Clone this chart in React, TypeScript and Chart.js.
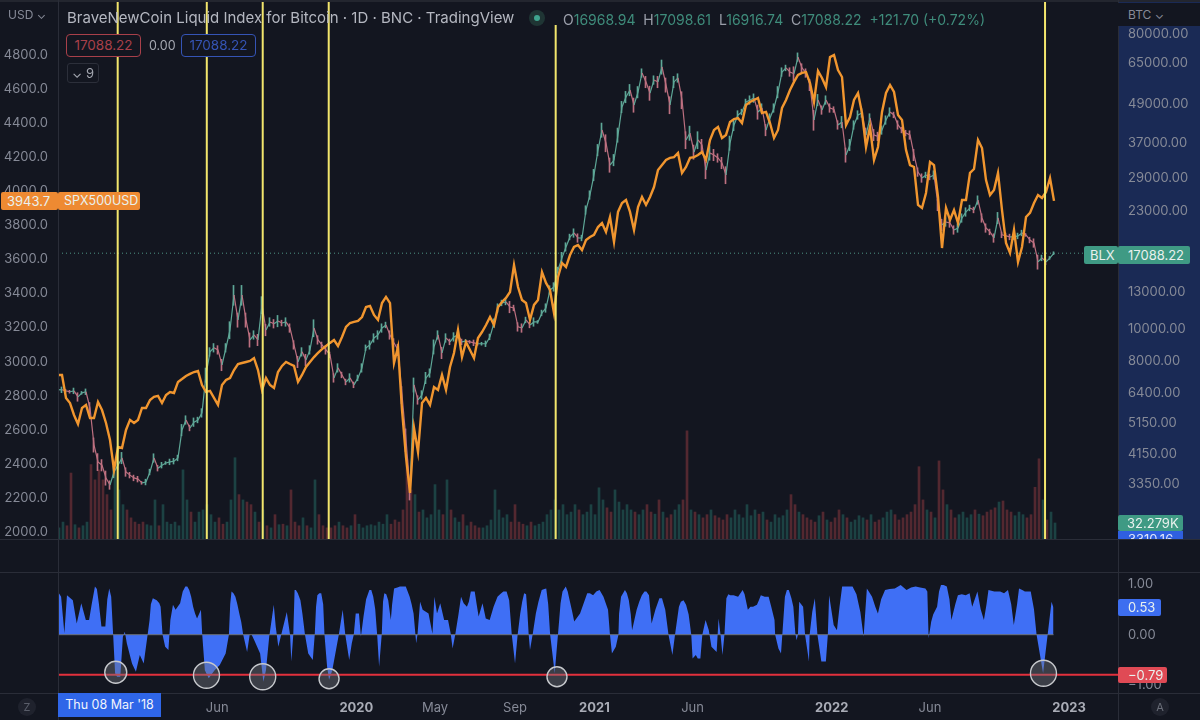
import { useEffect, useRef, type CSSProperties } from 'react';
import { Chart, registerables } from 'chart.js';

Chart.register(...registerables);

// every price series is one sample per ~6 days, starting at firstDay
const firstDay = -93.8; // days since 1 Jan 2019
const lastVisibleDay = 1536.2;
const sampleStep = 6.151;

const spxClose = [
  2922, 2922, 2787, 2757, 2687, 2634, 2728, 2746, 2669, 2669, 2763, 2716, 2640, 2540, 2364, 2499, 2493, 2599, 2658, 2640,
  2658, 2728, 2728, 2775, 2793, 2799, 2757, 2804, 2822, 2816, 2881, 2898, 2916, 2928, 2939, 2945, 2863, 2822, 2828, 2787,
  2746, 2863, 2892, 2904, 2951, 2986, 2992, 2998, 3004, 3021, 2951, 2834, 2904, 2863, 2845, 2939, 2975, 2998, 2986, 2975,
  2881, 2922, 2969, 2998, 3027, 3051, 3074, 3092, 3110, 3127, 3092, 3145, 3204, 3227, 3233, 3239, 3262, 3321, 3327, 3274,
  3245, 3344, 3380, 3344, 2992, 3086, 2716, 2440, 2229, 2611, 2470, 2757, 2787, 2746, 2851, 2834, 2922, 2834, 2969, 3051,
  3186, 3027, 3115, 3068, 3021, 3139, 3174, 3215, 3262, 3215, 3321, 3350, 3374, 3409, 3567, 3438, 3362, 3344, 3245, 3333,
  3362, 3526, 3462, 3421, 3286, 3497, 3579, 3556, 3626, 3673, 3685, 3655, 3714, 3732, 3744, 3790, 3814, 3761, 3849, 3702,
  3879, 3931, 3949, 3879, 3773, 3908, 3967, 3920, 3967, 4025, 4125, 4154, 4184, 4196, 4201, 4225, 4108, 4143, 4196, 4201,
  4213, 4231, 4184, 4301, 4360, 4378, 4313, 4331, 4407, 4424, 4430, 4401, 4507, 4524, 4536, 4548, 4460, 4466, 4401, 4313,
  4360, 4489, 4536, 4595, 4642, 4683, 4695, 4700, 4636, 4524, 4706, 4665, 4612, 4788, 4800, 4712, 4671, 4389, 4436, 4536,
  4577, 4460, 4260, 4378, 4184, 4260, 4466, 4577, 4624, 4583, 4448, 4419, 4243, 4154, 4143, 3920, 3902, 3990, 4172, 4154,
  3967, 3667, 3902, 3832, 3890, 3814, 3949, 3949, 4108, 4131, 4301, 4254, 4066, 3978, 4008, 4108, 3890, 3697, 3638, 3773,
  3585, 3673, 3849, 3873, 3931, 3978, 3961, 3996, 4078, 3943.7,
];

const btcClose = [
  6530, 6530, 6480, 6440, 6480, 6210, 6390, 6440, 5740, 4430, 3930, 3840, 3510, 3340, 3660, 3840, 4040, 3660, 3580, 3510,
  3480, 3390, 3410, 3660, 4040, 3760, 3840, 3900, 3930, 3950, 4040, 4920, 5280, 4990, 5200, 5280, 5550, 7250, 8530, 8780,
  8650, 7780, 8780, 9950, 12730, 10680, 12730, 10680, 9280, 9610, 9280, 11870, 9950, 10530, 10400, 10600, 10450, 10530, 10090, 8960,
  7950, 8530, 8060, 8650, 10090, 9280, 8960, 8650, 8350, 7100, 7620, 7250, 6900, 7100, 6760, 7100, 7620, 8780, 8960, 9410,
  9610, 10090, 10310, 9610, 9090, 8650, 6300, 4590, 3230, 6760, 6080, 6300, 7100, 7350, 8840, 9610, 8470, 9410, 9150, 9480,
  9610, 9150, 9210, 9150, 9090, 9030, 9030, 9030, 9480, 10450, 11620, 12040, 12120, 11700, 11620, 10170, 10090, 10680, 10310, 10530,
  10530, 11220, 11620, 13190, 13480, 15190, 16530, 17860, 19160, 19700, 19020, 19020, 23170, 25750, 29650, 35340, 40690, 37130, 31800, 32940,
  39290, 47860, 51350, 53930, 48530, 53140, 60790, 57080, 52770, 57870, 57080, 63440, 55900, 48530, 57080, 58710, 50270, 37930, 39820, 34860,
  37930, 36630, 30700, 34620, 34140, 33420, 32270, 29650, 37130, 42170, 45250, 46200, 49590, 50270, 50950, 46200, 47520, 40690, 44300, 47520,
  53140, 61230, 63000, 61230, 60500, 68000, 63000, 60790, 55900, 43660, 50270, 46850, 50270, 47520, 47000, 42170, 43050, 34140, 36630, 42170,
  45250, 45880, 39290, 44300, 39290, 38900, 40690, 43660, 46200, 45250, 42170, 40690, 39820, 39290, 34140, 30260, 29020, 29650, 29230, 29650,
  24000, 20860, 21290, 21140, 20130, 20410, 21900, 22850, 23500, 23170, 24850, 21900, 20410, 19850, 19020, 21900, 19440, 19300, 19160, 19160,
  19300, 19700, 19440, 18750, 18360, 16070, 16530, 16070, 16530, 17088.22,
];

// half height of the candles around each sample, percent of price
const btcWickPct = [
  1, 2, 1, 1, 2, 3, 1, 2, 4, 5, 6, 4, 5, 3, 4, 3, 4, 3, 2, 2,
  2, 1, 2, 2, 3, 2, 2, 1, 2, 2, 2, 4, 3, 2, 3, 2, 3, 5, 3, 3,
  3, 4, 3, 6, 7, 5, 7, 5, 5, 3, 4, 6, 4, 3, 3, 4, 2, 3, 3, 3,
  4, 3, 4, 3, 6, 3, 2, 3, 2, 3, 3, 2, 2, 3, 2, 2, 3, 2, 3, 3,
  3, 3, 2, 3, 3, 4, 6, 8, 7, 5, 3, 3, 4, 3, 5, 3, 4, 3, 2, 3,
  2, 2, 1, 1, 2, 1, 1, 2, 2, 3, 3, 2, 2, 4, 2, 3, 3, 2, 2, 3,
  1, 2, 3, 3, 3, 2, 4, 3, 2, 3, 3, 2, 3, 3, 4, 4, 5, 6, 5, 4,
  5, 4, 4, 4, 5, 4, 3, 4, 5, 3, 4, 5, 5, 6, 4, 3, 6, 6, 5, 5,
  6, 4, 6, 5, 4, 3, 4, 6, 5, 4, 3, 2, 2, 3, 3, 5, 3, 4, 3, 3,
  4, 3, 2, 3, 5, 3, 3, 3, 4, 7, 4, 3, 3, 3, 2, 3, 4, 5, 4, 3,
  3, 3, 5, 3, 4, 3, 3, 3, 3, 2, 3, 2, 2, 3, 4, 3, 3, 2, 2, 3,
  4, 4, 3, 3, 3, 3, 3, 3, 2, 2, 3, 3, 3, 2, 3, 4, 2, 2, 2, 2,
  2, 2, 1, 2, 3, 5, 2, 2, 1, 1,
];

// BLX volume, thousands
const btcVolume = [
  23, 34, 27, 127, 29, 23, 27, 34, 143, 114, 133, 114, 86, 57, 133, 95, 67, 57, 42, 34,
  30, 34, 29, 27, 76, 27, 67, 34, 30, 34, 27, 133, 76, 53, 34, 53, 57, 67, 48, 34,
  42, 30, 34, 76, 156, 86, 76, 72, 67, 53, 34, 57, 27, 23, 48, 29, 30, 27, 95, 34,
  27, 42, 27, 23, 114, 48, 27, 23, 23, 27, 34, 27, 23, 27, 48, 30, 23, 27, 29, 27,
  34, 30, 48, 30, 38, 34, 57, 152, 95, 86, 53, 57, 42, 48, 105, 57, 48, 114, 57, 42,
  34, 48, 27, 34, 27, 23, 23, 27, 38, 95, 57, 42, 48, 34, 67, 34, 30, 27, 34, 27,
  30, 34, 48, 57, 76, 57, 67, 48, 53, 67, 57, 48, 53, 67, 48, 99, 76, 61, 53, 95,
  72, 57, 67, 57, 53, 48, 57, 67, 53, 49, 76, 53, 42, 48, 57, 67, 76, 207, 57, 53,
  48, 42, 48, 57, 46, 42, 38, 48, 42, 57, 48, 42, 67, 46, 57, 49, 53, 38, 34, 48,
  42, 46, 57, 86, 67, 53, 48, 42, 38, 34, 46, 53, 38, 34, 42, 57, 48, 42, 34, 38,
  46, 42, 38, 48, 34, 38, 42, 53, 57, 48, 38, 42, 48, 53, 67, 139, 76, 57, 53, 42,
  150, 95, 67, 57, 42, 48, 53, 42, 48, 57, 49, 46, 53, 57, 61, 72, 74, 57, 53, 46,
  53, 48, 42, 48, 100, 154, 76, 38, 53, 32.279,
];

// oscillator vertices, day and value read in pairs (20 per row)
const oscDays = [
  -94, -89, -84, -80, -71, -65, -58, -51, -46, -42, -37, -34, -31, -27, -21, -18, -15, -12, -9, -6,
  -3, 2, 6, 9, 12, 20, 26, 32, 38, 44, 47, 49, 52, 58, 62, 64, 67, 71, 76, 79,
  83, 87, 94, 98, 102, 105, 108, 111, 114, 117, 120, 126, 128, 132, 138, 147, 155, 164, 169, 171,
  173, 176, 179, 182, 185, 188, 191, 197, 201, 204, 208, 217, 222, 226, 231, 238, 241, 245, 250, 258,
  263, 265, 268, 270, 272, 275, 279, 282, 286, 291, 298, 301, 303, 305, 308, 311, 314, 316, 320, 323,
  328, 338, 344, 348, 354, 358, 361, 364, 369, 372, 376, 380, 385, 388, 391, 394, 397, 400, 404, 406,
  408, 411, 414, 418, 420, 423, 428, 432, 437, 441, 447, 450, 453, 457, 459, 463, 467, 476, 482, 485,
  489, 494, 500, 506, 510, 513, 517, 522, 526, 530, 535, 538, 541, 544, 547, 550, 553, 559, 564, 570,
  576, 582, 586, 591, 596, 600, 604, 609, 613, 617, 620, 623, 626, 628, 630, 632, 636, 641, 645, 650,
  654, 657, 660, 663, 670, 675, 679, 682, 687, 690, 694, 697, 700, 709, 714, 720, 724, 729, 734, 739,
  745, 752, 755, 758, 764, 768, 769, 772, 778, 781, 784, 787, 789, 796, 800, 804, 808, 811, 815, 819,
  825, 831, 835, 840, 845, 851, 855, 861, 864, 868, 872, 876, 880, 882, 887, 890, 894, 897, 902, 907,
  911, 919, 922, 925, 928, 931, 934, 937, 940, 945, 952, 959, 962, 967, 971, 975, 981, 984, 987, 993,
  999, 1003, 1008, 1009, 1014, 1018, 1020, 1024, 1027, 1030, 1034, 1037, 1040, 1042, 1044, 1046, 1052, 1055, 1061, 1062,
  1066, 1070, 1074, 1080, 1087, 1090, 1092, 1099, 1104, 1108, 1112, 1116, 1128, 1134, 1140, 1145, 1150, 1153, 1158, 1163,
  1167, 1172, 1178, 1185, 1193, 1202, 1211, 1218, 1225, 1232, 1240, 1243, 1245, 1249, 1252, 1258, 1261, 1264, 1268, 1273,
  1277, 1280, 1286, 1290, 1296, 1302, 1308, 1312, 1320, 1325, 1330, 1334, 1337, 1346, 1355, 1361, 1367, 1372, 1376, 1381,
  1384, 1389, 1393, 1402, 1407, 1411, 1421, 1428, 1434, 1437,
];
const oscValues = [
  0.85, 0.75, 0.03, 0.78, 0.68, 0.22, 0.62, 0.29, 0.29, 0.6, 0.95, 0.9, 0.62, 0.16, 0.16, 0.7, 0.91, 0.75, 0, -0.76,
  -0.83, -0.83, -0.04, 0.06, -0.17, -0.57, -0.73, -0.4, -0.57, 0, 0.29, 0.6, 0.72, 0.68, 0.62, 0.55, 0, -0.24, -0.3, 0.29,
  0.59, 0.49, 0.62, 0.85, 0.95, 0.95, 0.88, 0.75, 0.55, 0.42, 0.32, 0.49, 0, -0.7, -0.86, -0.7, -0.6, -0.37, 0, 0.6,
  0.85, 0.82, 0.75, 0.6, 0.42, 0.25, 0, -0.34, 0, 0, -0.11, -0.37, -0.93, -0.7, -0.04, 0.59, 0.16, -0.24, 0.03, 0.45,
  0, -0.53, 0, 0.88, 0.88, 0.82, 0.68, 0.42, 0, -0.37, -0.5, 0, 0.55, 0.78, 0.82, 0.82, 0.6, 0, -0.63, -0.89,
  -0.7, 0, 0.49, 0, -0.5, -0.17, 0, 0.42, 0.42, -0.04, 0.36, 0.7, 0.88, 0.88, 0.75, 0.5, 0, -0.63, 0, 0.65,
  0.82, 0.8, 0.68, 0.29, 0.6, 0.91, 0.93, 0.95, 0.95, 0.95, 0.75, 0.6, 0.42, -0.17, 0, 0.65, 0.49, 0.42, 0.02, 0.75,
  0.42, 0.62, 0.29, 0.29, 0.03, -0.27, 0, 0.4, 0.75, 0.62, 0.55, 0.65, 0.85, 0.85, 0.85, 0.6, 0.36, 0.62, 0.32, 0.29,
  0.55, 0.75, 0.8, 0.85, 0.85, 0.68, 0, -0.57, 0, 0.42, 0.65, 0.82, 0.8, 0.45, 0, -0.3, 0, 0.42, 0.65, 0.88,
  0.9, 0.91, 0.6, 0, -0.76, 0, 0.62, 0.85, 0.95, 0.85, 0.62, 0.45, 0.26, 0.42, 0.6, 0.82, 0.82, 0.78, 0.85, 0.88,
  0.75, 0.49, 0, -0.37, -0.24, 0, 0.42, 0.75, 0.88, 0.82, 0.68, 0.4, 0.09, 0.49, 0.65, 0.78, 0.85, 0.85, 0.78, 0.22,
  0.5, 0.72, 0.72, 0.49, 0, -0.4, 0, 0.55, 0.65, 0.68, 0.59, 0.4, 0, -0.47, -0.4, -0.47, -0.47, 0, 0.29, 0.09,
  -0.24, -0.34, 0.32, 0, -0.4, 0, 0.72, 0.8, 0.78, 0.78, 0.75, 0.88, 0.8, 0.49, 0.55, 0.55, 0.59, 0.68, 0.78, 0.75,
  0.75, 0.55, 0.29, 0, -0.27, -0.37, 0, 0.75, 0.88, 0.88, 0.72, 0.55, 0.03, -0.11, 0, 0.65, 0.55, 0, -0.53, 0,
  0.45, 0.72, 0, -0.53, -0.53, 0, 0.78, 0.19, 0.09, 0.55, 0.95, 0.95, 0.95, 0.8, 0.45, -0.04, 0.91, 0.85, 0.75, 0.55,
  0.42, 0.7, 0.88, 0.9, 0.91, 0.98, 0.88, 0.93, 0.95, 0.93, 0.91, 0.85, -0.07, 0.26, 0.4, 0.55, 0.85, 0.98, 0.98, 0.95,
  0.7, 0.29, 0.6, 0.78, 0.8, 0.78, 0.82, 0.55, 0.85, 0.5, 0.29, 0.6, 0.88, 0.85, 0.85, 0.82, 0.88, 0.6, 0.19, 0.6,
  0.91, 0.88, 0.85, 0.85, 0.5, 0, -0.76, 0, 0.65, 0.53,
];

const eventDays = [-2, 135, 221, 322.5, 671.5, 1424];
const eventTops = [5123, 5123, 5123, 5123, 4976, 5123];

const circledDays = [-5, 134.5, 221, 323, 673.5, 1421.6];
const circledValues = [-0.74, -0.8, -0.83, -0.87, -0.83, -0.76];

const spxTicks = [2000, 2200, 2400, 2600, 2800, 3000, 3200, 3400, 3600, 3800, 4000, 4200, 4400, 4600, 4800];
const btcTicks = [80000, 65000, 49000, 37000, 29000, 23000, 13000, 10000, 8000, 6400, 5150, 4150, 3350];
const oscTicks = [1, 0, -1];
const timeTickDays = [151, 365, 486, 609, 731, 882, 1096, 1247, 1461];
const timeTickLabels = ['Jun', '2020', 'May', 'Sep', '2021', 'Jun', '2022', 'Jun', '2023'];

const lastBtc = 17088.22;
const oscLevel = -0.79;

const BG = '#131620';
const GRAY = '#868a97';
const UP = '#5ea797';
const DOWN = '#bd7080';
const FONT = 'Inter, "Noto Sans", sans-serif';
const circleSizes = [11, 13, 13, 10, 10, 13];

Chart.defaults.font.family = FONT;
Chart.defaults.font.size = 13;
Chart.defaults.color = GRAY;

const priceDays = spxClose.map((_, i) => firstDay + i * sampleStep);
const isDown = (i: number) => i > 0 && btcClose[i] < btcClose[i - 1];

// ticks.padding would otherwise be added to the chart area inset
const fixedWidth = (w: number) => (scale: any) => {
  scale.width = w;
  scale.paddingTop = 0;
  scale.paddingBottom = 0;
};
const fixedTicks = (values: number[]) => (scale: any) => {
  scale.ticks = values.map((value) => ({ value }));
};

const box = (x: number, y: number, w: number, h: number, extra: CSSProperties = {}): CSSProperties => ({
  position: 'absolute',
  left: x,
  top: y,
  width: w,
  height: h,
  lineHeight: `${h}px`,
  ...extra,
});

function Tag({ x, y, w, h, bg, text, pad = 6, size = 13 }: { x: number; y: number; w: number; h: number; bg: string; text: string; pad?: number; size?: number }) {
  return (
    <div style={box(x, y, w, h, { background: bg, color: '#e9f1ee', paddingLeft: pad, boxSizing: 'border-box', fontSize: size, borderRadius: 2, whiteSpace: 'nowrap' })}>
      {text}
    </div>
  );
}

export default function App() {
  const mainRef = useRef<HTMLCanvasElement | null>(null);
  const oscRef = useRef<HTMLCanvasElement | null>(null);

  useEffect(() => {
    if (!mainRef.current || !oscRef.current) {
      return;
    }

    const main = new Chart(mainRef.current, {
      data: {
        datasets: [
          ...eventDays.map((day, i) => ({
            type: 'line' as const,
            data: [
              { x: day, y: eventTops[i] },
              { x: day, y: 1953 },
            ],
            yAxisID: 'ySpx',
            borderColor: '#f2e56c',
            borderWidth: 2,
            pointRadius: 0,
            order: 1,
          })),
          {
            type: 'line' as const,
            data: spxClose.map((y, i) => ({ x: priceDays[i], y })),
            yAxisID: 'ySpx',
            borderColor: '#f1962f',
            borderWidth: 2.4,
            pointRadius: 0,
            tension: 0,
            order: 2,
          },
          {
            type: 'line' as const,
            data: btcClose.map((y, i) => ({ x: priceDays[i], y })),
            yAxisID: 'yBtc',
            borderWidth: 1.2,
            pointRadius: 0,
            tension: 0,
            segment: {
              borderColor: (ctx: any) => (ctx.p1.parsed.y >= ctx.p0.parsed.y ? UP : DOWN),
            },
            order: 3,
          },
          {
            type: 'bar' as const,
            data: btcClose.map((c, i) => ({
              x: priceDays[i],
              y: [c * (1 - btcWickPct[i] / 100), c * (1 + btcWickPct[i] / 100)],
            })),
            yAxisID: 'yBtc',
            barThickness: 1,
            backgroundColor: btcClose.map((_, i) => (isDown(i) ? DOWN : UP)),
            order: 3.5,
          },
          {
            type: 'line' as const,
            data: [
              { x: firstDay, y: lastBtc },
              { x: 1483, y: lastBtc },
            ],
            yAxisID: 'yBtc',
            borderColor: '#4f9484',
            borderWidth: 1,
            borderDash: [1, 3],
            pointRadius: 0,
            order: 4,
          },
          {
            type: 'bar' as const,
            data: btcVolume.map((y, i) => ({ x: priceDays[i], y })),
            yAxisID: 'yVol',
            barThickness: 2,
            backgroundColor: btcVolume.map((_, i) => (isDown(i) ? 'rgba(190,70,75,0.38)' : 'rgba(45,140,125,0.38)')),
            order: 5,
          },
        ],
      },
      options: {
        responsive: false,
        animation: false,
        layout: { autoPadding: false, padding: 0 },
        plugins: { legend: { display: false }, tooltip: { enabled: false } },
        scales: {
          x: { type: 'linear', offset: false, min: firstDay, max: lastVisibleDay, display: false },
          ySpx: {
            type: 'linear',
            position: 'left',
            min: 1953,
            max: 5123,
            afterFit: fixedWidth(58),
            afterBuildTicks: fixedTicks(spxTicks),
            grid: { display: false, drawTicks: false },
            border: { display: false },
            ticks: { padding: 10, autoSkip: false, callback: (v: any) => Number(v).toFixed(1) },
          },
          yBtc: {
            type: 'logarithmic',
            position: 'right',
            min: 2267,
            max: 101650,
            afterFit: fixedWidth(82),
            afterBuildTicks: fixedTicks(btcTicks),
            grid: { display: false, drawTicks: false },
            border: { display: false },
            ticks: { padding: 10, autoSkip: false, callback: (v: any) => Number(v).toFixed(2) },
          },
          yVol: { type: 'linear', min: 0, max: 1024, display: false },
        },
      },
    } as any);

    const osc = new Chart(oscRef.current, {
      data: {
        datasets: [
          {
            type: 'scatter' as const,
            data: circledDays.map((x, i) => ({ x, y: circledValues[i] })),
            pointRadius: circleSizes,
            backgroundColor: 'rgba(120,122,130,0.4)',
            borderColor: '#c6c8cc',
            borderWidth: 1.4,
            order: 1,
          },
          {
            type: 'line' as const,
            data: [
              { x: firstDay, y: oscLevel },
              { x: lastVisibleDay, y: oscLevel },
            ],
            borderColor: '#e2303c',
            borderWidth: 2,
            pointRadius: 0,
            order: 2,
          },
          {
            type: 'line' as const,
            data: oscDays.map((x, i) => ({ x, y: oscValues[i] })),
            borderWidth: 0,
            backgroundColor: '#3f6ff5',
            fill: 'origin',
            pointRadius: 0,
            tension: 0,
            order: 3,
          },
          {
            type: 'line' as const,
            data: [
              { x: firstDay, y: 0 },
              { x: oscDays[oscDays.length - 1], y: 0 },
            ],
            borderColor: '#6d7078',
            borderWidth: 1,
            pointRadius: 0,
            order: 2.5,
          },
        ],
      },
      options: {
        responsive: false,
        animation: false,
        layout: { autoPadding: false, padding: { left: 58 } },
        plugins: { legend: { display: false }, tooltip: { enabled: false } },
        scales: {
          x: {
            type: 'linear',
            offset: false,
            min: firstDay,
            max: lastVisibleDay,
            afterFit: (scale: any) => {
              scale.height = 26.5;
              scale.paddingLeft = 0;
              scale.paddingRight = 0;
            },
            afterBuildTicks: fixedTicks(timeTickDays),
            grid: { display: false, drawTicks: false },
            border: { display: false },
            ticks: {
              autoSkip: false,
              maxRotation: 0,
              padding: 7,
              callback: (v: any) => timeTickLabels[timeTickDays.indexOf(Number(v))],
              font: (ctx: any) => {
                const label = timeTickLabels[timeTickDays.indexOf(ctx.tick?.value)];
                return { weight: label && label.length === 4 ? 'bold' : 'normal', size: 13 };
              },
              color: (ctx: any) => {
                const label = timeTickLabels[timeTickDays.indexOf(ctx.tick?.value)];
                return label && label.length === 4 ? '#a9acb6' : GRAY;
              },
            },
          },
          y: {
            type: 'linear',
            position: 'right',
            min: -1.16,
            max: 1.868,
            afterFit: fixedWidth(82),
            afterBuildTicks: fixedTicks(oscTicks),
            grid: { display: false, drawTicks: false },
            border: { display: false },
            ticks: {
              padding: 10,
              autoSkip: false,
              callback: (v: any) => `${Number(v) < 0 ? '\u2212' : ''}${Math.abs(Number(v)).toFixed(2)}`,
            },
          },
        },
      },
    } as any);

    return () => {
      main.destroy();
      osc.destroy();
    };
  }, []);

  const line = '#2a2d38';

  return (
    <div style={{ position: 'fixed', left: 0, top: 0, width: 1200, height: 720, overflow: 'hidden', background: BG, fontFamily: FONT, color: GRAY }}>
      <div style={box(1118, 0, 82, 540, { background: '#1a2a55' })} />
      <canvas ref={mainRef} width={1200} height={540} style={{ position: 'absolute', left: 0, top: 0 }} />
      <canvas ref={oscRef} width={1200} height={180} style={{ position: 'absolute', left: 0, top: 540 }} />

      <div style={box(0, 0, 1200, 2, { background: '#23262f' })} />
      <div style={box(58, 0, 1, 720, { background: line })} />
      <div style={box(1118, 0, 1, 720, { background: line })} />
      <div style={box(0, 539, 1200, 1, { background: line })} />
      <div style={box(0, 572, 1200, 1, { background: line })} />
      <div style={box(0, 693, 1200, 1, { background: line })} />

      <div style={box(8, 7, 40, 16, { fontSize: 12 })}>USD ⌄</div>
      <div style={box(1118, 3, 82, 23, { background: BG, paddingLeft: 10, boxSizing: 'border-box', fontSize: 12 })}>BTC ⌄</div>

      <div style={box(67, 8, 460, 20, { fontSize: 15, color: '#b4b7c0', whiteSpace: 'nowrap' })}>
        BraveNewCoin Liquid Index for Bitcoin · 1D · BNC · TradingView
      </div>
      <div style={box(529, 10, 16, 16, { borderRadius: 8, background: '#1f3534' })} />
      <div style={box(534, 15, 6, 6, { borderRadius: 3, background: '#3fa58f' })} />
      <div style={box(563, 11, 420, 18, { fontSize: 14, whiteSpace: 'nowrap', color: '#3f8c7b' })}>
        <span style={{ color: '#9a9ea9' }}>O</span>16968.94 <span style={{ color: '#9a9ea9' }}>&nbsp;H</span>17098.61 <span style={{ color: '#9a9ea9' }}>&nbsp;L</span>16916.74 <span style={{ color: '#9a9ea9' }}>&nbsp;C</span>17088.22 &nbsp;+121.70 (+0.72%)
      </div>

      <div style={box(66, 34, 75, 23, { border: '1px solid #a8404a', borderRadius: 4, color: '#a8404a', textAlign: 'center', fontSize: 13.5, boxSizing: 'border-box', background: BG, lineHeight: '21px' })}>17088.22</div>
      <div style={box(149, 34, 26, 23, { fontSize: 12.5, color: '#a4a7b0' })}>0.00</div>
      <div style={box(181, 34, 75, 23, { border: '1px solid #3554b5', borderRadius: 4, color: '#3554b5', textAlign: 'center', fontSize: 13.5, boxSizing: 'border-box', background: BG, lineHeight: '21px' })}>17088.22</div>
      <div style={box(67, 63, 32, 20, { border: '1px solid #2c2f3a', borderRadius: 3, textAlign: 'center', fontSize: 13, color: '#a4a7b0', boxSizing: 'border-box', background: BG, lineHeight: '18px' })}>⌄ 9</div>

      <Tag x={1} y={192} w={57} h={18} bg="#ee8a32" text="3943.7" />
      <Tag x={58} y={192} w={82} h={18} bg="#ee8a32" text="SPX500USD" size={12.5} />
      <Tag x={1084} y={246} w={34} h={18} bg="#3f9a84" text="BLX" />
      <Tag x={1118} y={246} w={72} h={18} bg="#3f9a84" text="17088.22" pad={10} />
      <div style={box(1118, 531, 65, 8, { background: '#2f5fe0', color: '#dfe6fb', fontSize: 13, paddingLeft: 10, boxSizing: 'border-box', overflow: 'hidden', lineHeight: '16px' })}>3310.16</div>
      <Tag x={1118} y={515} w={65} h={16} bg="#3f9a84" text="32.279K" pad={9} />

      <Tag x={1118} y={599} w={43} h={17} bg="#3d6ef0" text="0.53" pad={10} />
      <Tag x={1118} y={667} w={49} h={16} bg="#e04a55" text={'\u22120.79'} pad={10} />

      <div style={box(58, 693, 103, 24, { background: '#2f66e8', color: '#f1f4fc', textAlign: 'center', fontSize: 12.5 })}>Thu 08 Mar '18</div>
      <div style={box(18, 698, 18, 18, { borderRadius: 9, background: '#1f222d', textAlign: 'center', fontSize: 11, color: '#5a5e6a' })}>Z</div>
      <div style={box(1151, 698, 18, 18, { borderRadius: 9, background: '#1f222d', textAlign: 'center', fontSize: 11, color: '#6b6f7a' })}>A</div>
    </div>
  );
}
